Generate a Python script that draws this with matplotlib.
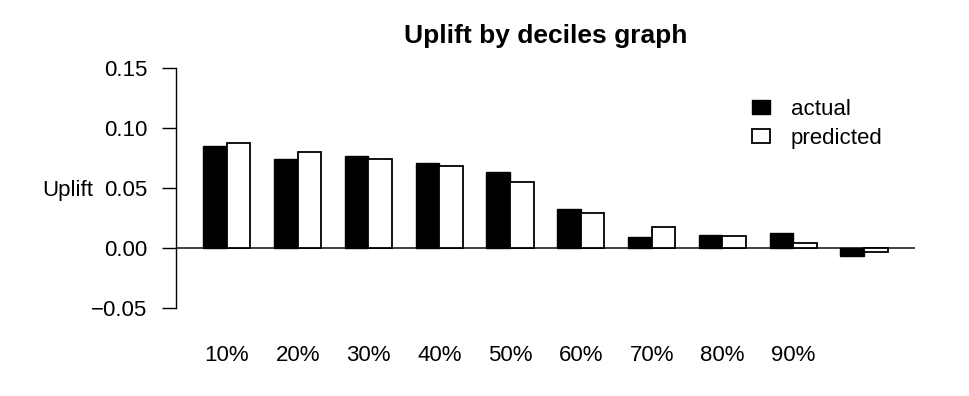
import matplotlib
matplotlib.use("Agg")
import matplotlib.pyplot as plt
from matplotlib.patches import Patch
import numpy as np

plt.rcParams['font.family'] = ['Liberation Sans', 'DejaVu Sans']

deciles = ["10%", "20%", "30%", "40%", "50%", "60%", "70%", "80%", "90%", ""]
actual = [0.0850, 0.0742, 0.0767, 0.0711, 0.0631, 0.0325, 0.0094, 0.0108, 0.0128, -0.0068]
predicted = [0.0877, 0.0797, 0.0739, 0.0680, 0.0547, 0.0289, 0.0175, 0.0100, 0.0042, -0.0030]
yticks = [-0.05, 0.00, 0.05, 0.10, 0.15]
ytick_labels = ["\u22120.05", "0.00", "0.05", "0.10", "0.15"]

fig = plt.figure(figsize=(9.7, 3.96), dpi=100)
W, H = 970, 396
left, right, top, bottom = 175.9, 915.0, 58.4, 317.6
ax = fig.add_axes([left / W, 1 - bottom / H, (right - left) / W, (bottom - top) / H])

n = len(deciles)
idx = np.arange(n)
x_act = 1.5 + 3 * idx
x_pred = 2.5 + 3 * idx
ax.bar(x_act, actual, width=1.0, color="black", edgecolor="black", linewidth=1.0, zorder=3)
ax.bar(x_pred, predicted, width=1.0, color="white", edgecolor="black", linewidth=1.3, zorder=3)

ax.axhline(0, color="#333333", linewidth=1.3, zorder=2)

span = 29
ax.set_xlim(1 - 0.04 * span, 30 + 0.04 * span)
ax.set_ylim(-0.058, 0.158)

for s in ["top", "right", "bottom"]:
    ax.spines[s].set_visible(False)
ax.spines["left"].set_bounds(-0.05, 0.15)
ax.spines["left"].set_linewidth(1.0)

ax.set_yticks(yticks)
ax.set_yticklabels(ytick_labels)
ax.tick_params(axis="y", length=10, width=1.0, pad=10.5, labelsize=16)

ax.set_xticks((x_act + x_pred) / 2)
ax.set_xticklabels(deciles)
ax.tick_params(axis="x", length=0, pad=20, labelsize=16)

ax.text((93 - left) / (right - left), 0.05, "Uplift", transform=ax.get_yaxis_transform(),
        ha="right", va="center_baseline", fontsize=16)

fig.text((left + right) / 2 / W, 1 - 43 / H, "Uplift by deciles graph",
         ha="center", va="baseline", fontsize=19, fontweight="bold")

handles = [Patch(facecolor="black", edgecolor="black", linewidth=1.0),
           Patch(facecolor="white", edgecolor="black", linewidth=1.3)]
ax.legend(handles, ["actual", "predicted"], loc="upper left",
          bbox_to_anchor=(752 / W, 1 - 99 / H), bbox_transform=fig.transFigure,
          frameon=False, fontsize=16, handlelength=0.8, handleheight=0.55,
          handletextpad=0.95, labelspacing=0.35, borderpad=0, borderaxespad=0)

fig.savefig("out.png", dpi=100)
